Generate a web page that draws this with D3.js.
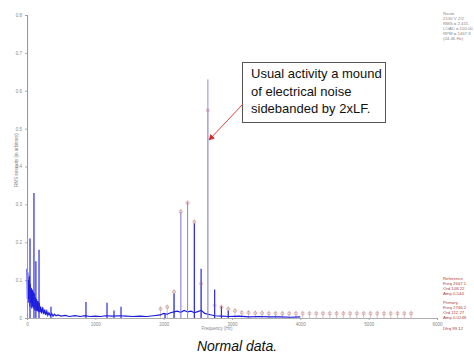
<!DOCTYPE html>
<html>
<head>
<meta charset="utf-8">
<script src="https://cdn.jsdelivr.net/npm/d3@7"></script>
<style>
  body { margin: 0; background: #fff; }
  svg { display: block; font-family: "Liberation Sans", Arial, sans-serif; }
</style>
</head>
<body>
<script>
// noise floor of the spectrum [Hz, amplitude]
var floorFreq = [0, 6, 12, 18, 24, 30, 36, 42, 48, 55, 62, 70, 77, 85, 92, 100, 108, 116, 124, 132,
  140, 150, 160, 170, 180, 190, 200, 215, 230, 245, 260, 275, 290, 305, 320, 340, 360, 380, 400, 425,
  450, 500, 560, 620, 700, 780, 850, 920, 1000, 1080, 1150, 1250, 1350, 1450, 1550, 1650, 1750, 1850, 1950, 2000,
  2050, 2100, 2150, 2200, 2250, 2300, 2350, 2400, 2450, 2500, 2550, 2600, 2650, 2700, 2750, 2850, 2950, 3100, 3250, 3400,
  3550, 3700, 3850, 4000];
var floorAmp = [0.13, 0.05, 0.12, 0.04, 0.1, 0.05, 0.11, 0.03, 0.09, 0.04, 0.08, 0.025, 0.075, 0.03, 0.07, 0.025, 0.065, 0.02, 0.055, 0.02,
  0.05, 0.018, 0.045, 0.015, 0.04, 0.015, 0.03, 0.012, 0.028, 0.01, 0.022, 0.008, 0.018, 0.007, 0.014, 0.006, 0.012, 0.005, 0.01, 0.006,
  0.008, 0.005, 0.007, 0.004, 0.006, 0.004, 0.006, 0.004, 0.005, 0.004, 0.006, 0.005, 0.006, 0.005, 0.004, 0.005, 0.004, 0.006, 0.008, 0.012,
  0.01, 0.014, 0.016, 0.018, 0.015, 0.02, 0.016, 0.018, 0.014, 0.017, 0.02, 0.012, 0.01, 0.008, 0.006, 0.005, 0.004, 0.005, 0.003, 0.004,
  0.003, 0.003, 0.002, 0.003];

// discrete peaks
var peakFreq = [8, 44, 102, 130, 176, 351, 863, 1171, 1273, 1376, 2020, 2152, 2251, 2350, 2449, 2548, 2647, 2746, 2845, 2945];
var peakAmp  = [0.85, 0.21, 0.33, 0.15, 0.18, 0.03, 0.042, 0.04, 0.02, 0.03, 0.012, 0.065, 0.28, 0.305, 0.25, 0.13, 0.63, 0.075, 0.03, 0.02];
var peakLight = [1, 0, 0, 0, 0, 0, 0, 0, 0, 0, 0, 0, 1, 1, 0, 0, 1, 0, 0, 0];

// harmonic cursor markers (reference 2647.1 Hz, step 99.12 Hz)
var cursorFreq = [1953.3, 2052.4, 2151.5, 2250.6, 2349.7, 2448.9, 2548.0, 2647.1, 2746.2, 2845.3,
  2944.5, 3043.6, 3142.7, 3241.8, 3340.9, 3440.0, 3539.1, 3638.3, 3737.4, 3836.5,
  3935.6, 4034.7, 4133.9, 4233.0, 4332.1, 4431.2, 4530.3, 4629.5, 4728.6, 4827.7,
  4926.8, 5025.9, 5125.1, 5224.2, 5323.3, 5422.4, 5521.5, 5620.7];
var cursorAmp = [0.02, 0.025, 0.065, 0.277, 0.30, 0.25, 0.087, 0.544, 0.029, 0.025,
  0.02, 0.015, 0.01, 0.01, 0.009, 0.009, 0.008, 0.008, 0.008, 0.008,
  0.008, 0.008, 0.008, 0.008, 0.008, 0.008, 0.008, 0.008, 0.008, 0.008,
  0.008, 0.008, 0.008, 0.008, 0.008, 0.008, 0.008, 0.008];

var xTicks = [0, 1000, 2000, 3000, 4000, 5000, 6000];
var yTicks = [0, 0.1, 0.2, 0.3, 0.4, 0.5, 0.6, 0.7, 0.8];

var infoTop = ["Route", "2130 V 2/2", "RMS = 2.415", "LOAD = 100.00", "RPM = 1467.9", "(24.46 Hz)"];
var infoRef = ["Reference", "Freq 2647.1", "Ord 108.22", "Amp 0.544"];
var infoPri = ["Primary", "Freq 2746.2", "Ord 112.27", "Amp 0.0249"];
var infoDiff = ["Dfrq 99.12"];
var noteLines = ["Usual activity a mound", "of electrical noise", "sidebanded by 2xLF."];

var W = 474, H = 364;
var svg = d3.select("body").append("svg").attr("width", W).attr("height", H);

var x = d3.scaleLinear().domain([0, 6000]).range([27, 437]);
var y = d3.scaleLinear().domain([0, 0.8]).range([318, 15]).clamp(true);

// axes
var xAxis = d3.axisBottom(x).tickValues(xTicks).tickSize(2).tickFormat(d3.format("d"));
var gx = svg.append("g").attr("transform", "translate(0,318)").call(xAxis);
var yAxis = d3.axisLeft(y).tickValues(yTicks).tickSize(2).tickFormat(function (d) { return d === 0 ? "0" : d3.format(".1f")(d); });
var gy = svg.append("g").attr("transform", "translate(27,0)").call(yAxis);
[gx, gy].forEach(function (g) {
  g.selectAll("path, line").attr("stroke", "#999").attr("stroke-width", 0.8);
  g.selectAll("text").attr("fill", "#888").style("font-size", "4.5px");
});
gy.select(".domain").attr("stroke", "#b0b0f0");

svg.append("text").attr("x", 217).attr("y", 330).attr("text-anchor", "middle")
  .attr("fill", "#888").style("font-size", "4.5px").text("Frequency (Hz)");
svg.append("text").attr("transform", "translate(18,160) rotate(-90)").attr("text-anchor", "middle")
  .attr("fill", "#888").style("font-size", "4.5px").text("RMS intensity (in arbitrary)");

// cursor stems
svg.selectAll(".stem").data(cursorFreq).enter().append("line")
  .attr("x1", function (d) { return x(d); }).attr("x2", function (d) { return x(d); })
  .attr("y1", y(0)).attr("y2", function (d, i) { return y(cursorAmp[i]) - 4; })
  .attr("stroke", "#c9a8a8").attr("stroke-width", 0.7);

// noise floor
var floorPts = floorFreq.map(function (f, i) { return [f, floorAmp[i]]; });
svg.append("path").datum(floorPts)
  .attr("d", d3.line().x(function (d) { return x(d[0]); }).y(function (d) { return y(d[1]); }))
  .attr("fill", "none").attr("stroke", "#1a1ae0").attr("stroke-width", 1.2);

// peaks
svg.selectAll(".peak").data(peakFreq).enter().append("line")
  .attr("x1", function (d) { return x(d); }).attr("x2", function (d) { return x(d); })
  .attr("y1", y(0)).attr("y2", function (d, i) { return y(peakAmp[i]); })
  .attr("stroke", function (d, i) { return peakLight[i] ? "#8a8af0" : "#2a2ae0"; })
  .attr("stroke-width", function (d, i) { return peakLight[i] ? 1 : 1.2; });

// cursor markers
svg.selectAll(".mk").data(cursorFreq).enter().append("circle")
  .attr("cx", function (d) { return x(d); }).attr("cy", function (d, i) { return y(cursorAmp[i]) - 1.5; })
  .attr("r", 1.5).attr("fill", "none").attr("stroke", "#c08080").attr("stroke-width", 0.6);

// info texts
function block(lines, x0, y0, dy, col) {
  svg.append("g").selectAll("text").data(lines).enter().append("text")
    .attr("x", x0).attr("y", function (d, i) { return y0 + i * dy; })
    .attr("fill", col).style("font-size", "4.3px").text(function (d) { return d; });
}
block(infoTop, 443, 15, 5, "#888");
block(infoRef, 443, 280, 5, "#b04040");
block(infoPri, 443, 304, 5, "#b04040");
block(infoDiff, 443, 330, 5, "#b04040");

// annotation
svg.append("rect").attr("x", 242.5).attr("y", 62.5).attr("width", 143).attr("height", 60)
  .attr("fill", "#fff").attr("stroke", "#555").attr("stroke-width", 1);
svg.append("g").selectAll("text").data(noteLines).enter().append("text")
  .attr("x", 251).attr("y", function (d, i) { return 78 + i * 17.5; })
  .attr("fill", "#111").style("font-size", "13px").text(function (d) { return d; });

svg.append("defs").append("marker").attr("id", "ah").attr("viewBox", "0 0 10 10")
  .attr("refX", 9).attr("refY", 5).attr("markerWidth", 6).attr("markerHeight", 6)
  .attr("markerUnits", "userSpaceOnUse").attr("orient", "auto")
  .append("path").attr("d", "M0,0 L10,5 L0,10 z").attr("fill", "#e02828");
svg.append("line").attr("x1", 243).attr("y1", 104).attr("x2", 209).attr("y2", 140)
  .attr("stroke", "#e04040").attr("stroke-width", 1).attr("marker-end", "url(#ah)");

// caption
svg.append("text").attr("x", 237).attr("y", 351).attr("text-anchor", "middle")
  .attr("fill", "#111").style("font-size", "14px").style("font-style", "italic").text("Normal data.");
</script>
</body>
</html>
